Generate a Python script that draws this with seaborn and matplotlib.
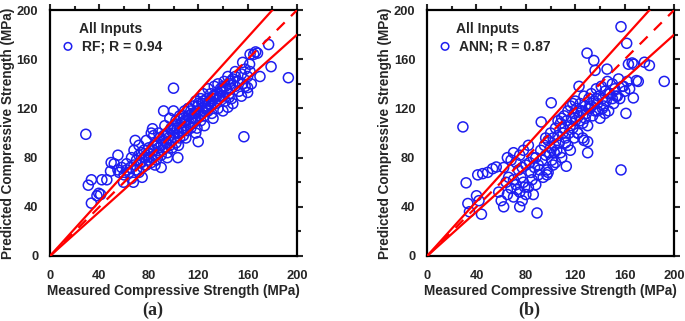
import numpy as np
import pandas as pd
import seaborn as sns
from matplotlib import pyplot as plt
from matplotlib.ticker import MultipleLocator

# %% Data
rf_meas = [29, 31, 33.5, 33.5, 38, 39.5, 41, 42, 46, 49.5, 52, 55, 56, 49, 69, 59.5, 67.5, 74.6,
           90, 83, 92, 100, 103.5, 120, 144, 157, 193, 179, 177, 170, 165, 168, 166.5, 162, 160,
           160, 137, 156, 161.6, 145,
           60, 62, 64, 65, 66, 68, 70, 70, 72, 72, 74, 75, 76, 76, 78, 78, 80, 80, 80, 82, 82, 84,
           84, 85, 86, 86, 88, 88, 89, 90, 90, 91, 92, 92, 93, 94, 95, 95, 96, 97, 98, 98, 99, 100,
           100, 101, 102, 102, 103, 104, 105, 105, 106, 107, 108, 108, 109, 110, 110, 111, 112, 112,
           113, 114, 114, 115, 116, 116, 117, 118, 118, 119, 120, 120, 121, 122, 122, 123, 124, 124,
           125, 126, 127, 128, 128, 129, 130, 130, 131, 132, 133, 134, 135, 136, 136, 137, 138, 140,
           140, 141, 142, 143, 144, 145, 146, 147, 148, 150, 150, 152, 153, 155, 156, 158, 160, 162,
           163,
           55, 58, 62, 66, 68, 72, 74, 78, 82, 84, 88, 93, 97, 100,
           85, 95, 104, 110, 118, 125, 132, 140, 148, 155, 158,
           106, 112, 118, 124, 128, 132, 115, 120, 126, 134, 138, 142, 108, 98, 94, 87, 77, 73,
           150, 152, 146, 139, 131, 127, 122, 117, 113, 109, 104, 101]
rf_pred = [99, 57.6, 62, 43, 49, 51, 50, 62, 62, 76, 75, 82, 68, 69, 94, 60, 60, 64,
           72, 103.5, 118, 136.5, 80, 93, 121, 97, 145, 154, 172, 146, 164, 165, 166, 164, 133,
           137, 130, 157.5, 156, 129,
           66, 70, 68, 72, 63, 74, 70, 78, 68, 82, 76, 72, 80, 86, 74, 82, 78, 84, 88, 80, 76, 86,
           90, 82, 78, 92, 88, 84, 96, 90, 82, 86, 94, 98, 88, 92, 84, 100, 96, 90, 102, 94, 88, 100,
           106, 96, 92, 110, 104, 100, 96, 114, 108, 102, 112, 98, 118, 106, 110, 102, 114, 120,
           108, 104, 118, 112, 122, 108, 116, 126, 112, 104, 118, 122, 114, 128, 110, 124, 118, 132,
           114, 122, 128, 118, 136, 126, 122, 132, 116, 128, 138, 124, 132, 120, 140, 128, 134, 130,
           138, 142, 126, 136, 146, 132, 140, 128, 144, 138, 150, 142, 134, 148, 140, 152, 146, 150,
           140,
           70, 72, 75, 80, 86, 90, 84, 94, 100, 98, 100, 106, 112, 118,
           74, 80, 90, 96, 100, 106, 112, 118, 124, 130, 138,
           112, 120, 116, 126, 124, 130, 116, 124, 120, 130, 136, 138, 104, 104, 98, 90, 80, 76,
           146, 142, 142, 134, 126, 120, 116, 112, 106, 110, 100, 104]

ann_meas = [29, 31.6, 33, 34.3, 40, 42, 44, 41, 45, 49, 53, 56, 75, 89, 77, 92.4, 100.5, 112.7,
            129.5, 135, 136, 145.7, 157, 161.6, 163, 166, 167.3, 176, 180, 192, 169.5, 171, 157,
            161, 167, 130, 130, 127, 123,
            60, 62, 65, 68, 70, 72, 75, 78, 80, 82, 85, 88, 90, 58, 64, 66, 70, 73, 76, 79, 84, 86,
            65, 68, 70, 72, 75, 78, 80, 82, 62, 74, 77, 83, 87,
            88, 90, 92, 93, 95, 96, 97, 98, 99, 100, 100, 101, 102, 103, 104, 105, 106, 106, 107,
            108, 109, 110, 110, 111, 112, 113, 114, 115, 116, 116, 117, 118, 119, 120, 120, 121,
            122, 123, 124, 125, 126, 127, 128, 128, 129, 130, 131, 132, 133, 134, 135, 136, 137,
            138, 139, 140, 141, 142, 143, 144, 145, 146, 147, 148, 150, 151, 152, 153, 155, 156,
            158, 160, 162, 164,
            94, 98, 102, 96, 104, 108, 112, 116, 118, 122, 126, 86, 91, 97, 103, 109, 114,
            119, 124, 133, 138, 144, 150, 154, 159, 147, 142, 137, 131, 125]
ann_pred = [105, 59.5, 42.7, 36, 49, 45, 34, 66, 67, 68, 71, 72.4, 40, 35, 45, 109, 124.6, 73,
            165, 159, 151, 152, 186.5, 173, 156, 157, 156, 157.6, 155, 142, 142.7, 142, 70,
            116, 128.6, 84, 93, 94, 138,
            45, 40, 50, 55, 48, 58, 52, 60, 50, 56, 62, 58, 66, 52, 60, 64, 62, 54, 64, 56, 68, 50,
            80, 78, 84, 76, 82, 86, 74, 90, 72, 70, 72, 76, 72,
            80, 74, 86, 78, 90, 82, 70, 94, 84, 88, 100, 78, 96, 90, 104, 86, 98, 110, 92,
            108, 112, 100, 104, 114, 96, 110, 118, 100, 106, 122, 112, 104, 116, 126, 110, 120,
            100, 114, 124, 118, 108, 130, 112, 122, 116, 106, 128, 120, 132, 114, 126, 118, 136,
            124, 130, 112, 138, 128, 122, 134, 126, 142, 118, 132, 140, 124, 136, 130, 144, 128,
            138, 134, 142, 136,
            64, 68, 74, 96, 76, 84, 92, 86, 124, 100, 96, 80, 70, 66, 84, 80, 90,
            96, 110, 122, 118, 116, 128, 130, 138, 132, 120, 128, 120, 118]

ref_x = [0, 200]
ref_upper = [0, 200 / 0.9]
ref_lower = [0, 180]
ref_equal = [0, 200]

panels = [("(a)", "RF; R = 0.94", rf_meas, rf_pred),
          ("(b)", "ANN; R = 0.87", ann_meas, ann_pred)]

# %% Plot
sns.set_style("white")
plt.rcParams["font.family"] = ["Liberation Sans", "DejaVu Sans"]
plt.rcParams["font.weight"] = "bold"

fig = plt.figure(figsize=(6.85, 3.21), dpi=100)
lefts = [0.073, 0.6235]

for left, (tag, label, meas, pred) in zip(lefts, panels):
    ax = fig.add_axes([left, 0.2025, 0.3606, 0.766])
    data = pd.DataFrame({"meas": meas, "pred": pred})
    sns.scatterplot(x="meas", y="pred", data=data, ax=ax, marker="o", s=52,
                    facecolor="none", edgecolor="#1e1ef0", linewidth=1.1,
                    label=label, zorder=2)
    ax.plot(ref_x, ref_upper, color="red", lw=1.6, zorder=3)
    ax.plot(ref_x, ref_lower, color="red", lw=1.6, zorder=3)
    ax.plot(ref_x, ref_equal, color="red", lw=1.6, ls=(0, (5, 4)), zorder=3)

    ax.set_xlim(0, 200)
    ax.set_ylim(0, 200)
    ax.xaxis.set_major_locator(MultipleLocator(40))
    ax.yaxis.set_major_locator(MultipleLocator(40))
    ax.xaxis.set_minor_locator(MultipleLocator(20))
    ax.yaxis.set_minor_locator(MultipleLocator(20))
    ax.tick_params(which="both", direction="out", top=True, right=True,
                   width=1.5, labelsize=9.3)
    ax.tick_params(which="major", length=4.5, pad=4)
    ax.tick_params(axis="x", which="major", pad=5.5)
    ax.tick_params(which="minor", length=3)
    for sp in ax.spines.values():
        sp.set_linewidth(1.6)
        sp.set_color("black")
    ax.set_xlabel("Measured Compressive Strength (MPa)", fontsize=9.8, fontweight="bold", labelpad=1.5)
    ax.set_ylabel("Predicted Compressive Strength (MPa)", fontsize=9.8, fontweight="bold", labelpad=1)

    ax.legend(loc="center left", bbox_to_anchor=(0.039, 0.854), frameon=False, fontsize=10,
              handletextpad=0.4, handlelength=1.2, borderaxespad=0, borderpad=0,
              markerscale=0.75)
    ax.text(0.117, 0.923, "All Inputs", transform=ax.transAxes, ha="left", va="center",
            fontsize=10, fontweight="bold")

    ax.text(0.415, -0.222, tag, transform=ax.transAxes, ha="center", va="center",
            fontsize=13, fontweight="bold", family="Liberation Serif")

plt.savefig("out.png", dpi=100)
plt.close()
